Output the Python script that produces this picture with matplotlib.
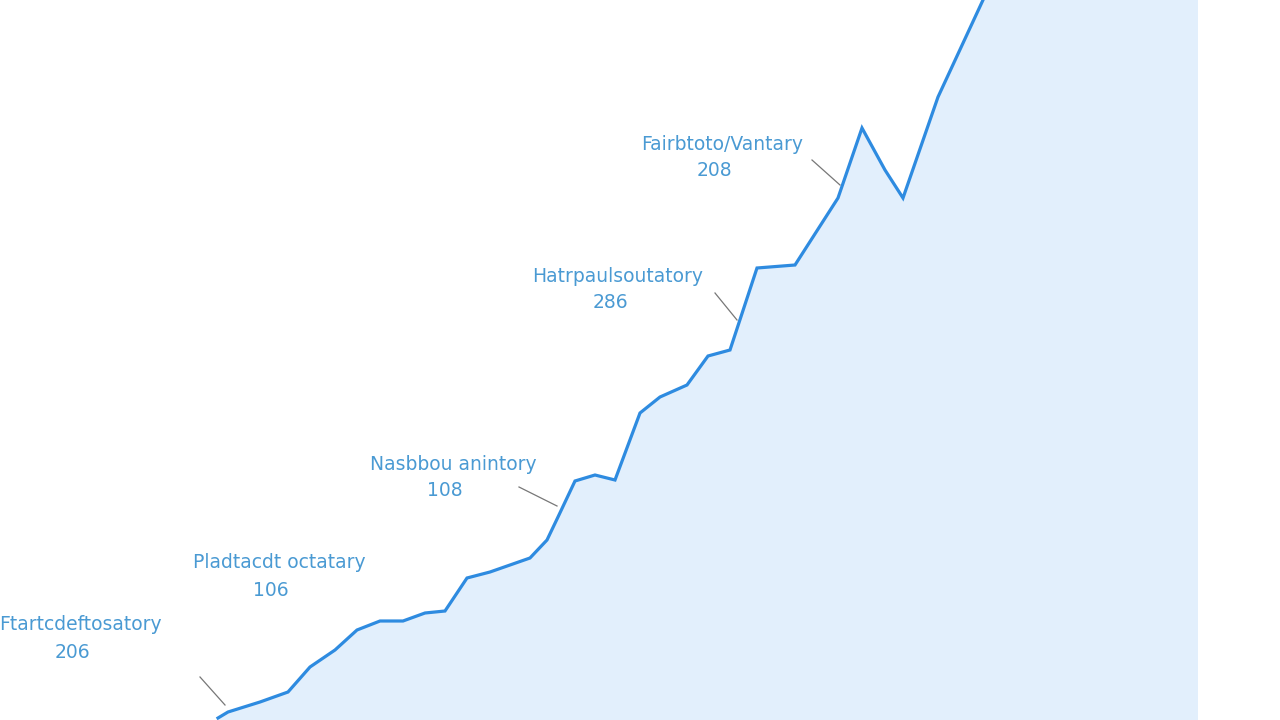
import matplotlib
matplotlib.use("Agg")
import matplotlib.pyplot as plt

# Time axis (period position) and cumulative value
periods = [218, 228, 260, 288, 310, 335, 357, 380, 403, 425, 445, 467, 490, 530,
           547, 558, 575, 595, 615, 640, 660, 687, 708, 730, 757, 795, 838, 862,
           885, 903, 938, 983, 1198]
values = [2, 8, 18, 28, 53, 70, 90, 99, 99, 107, 109, 142, 148, 162,
          180, 203, 239, 245, 240, 307, 323, 335, 364, 370, 452, 455, 522, 592,
          550, 522, 623, 720, 1200]

# Annotations: label, number, text anchor (x, y), arrow target (x, y)
ann_labels = ["Fairbtoto/Vantary", "Hatrpaulsoutatory", "Nasbbou anintory",
              "Pladtacdt octatary", "Ftartcdeftosatory"]
ann_numbers = ["208", "286", "108", "106", "206"]
ann_text_x = [722, 618, 453, 279, 80]
ann_text_y = [576, 444, 256, 157, 95]
ann_line_from = [(812, 560), (715, 427), (519, 233), None, (200, 43)]
ann_line_to = [(840, 535), (737, 400), (557, 214), None, (225, 15)]

fig = plt.figure(figsize=(12.8, 7.2), dpi=100)
ax = fig.add_axes([0, 0, 1, 1])
ax.set_xlim(0, 1280)
ax.set_ylim(0, 720)
ax.axis("off")

ax.fill_between(periods, values, 0, color="#E2EFFC", lw=0)
ax.plot(periods, values, color="#2E8BE0", lw=2.3, solid_joinstyle="miter")

for lab, num, tx, ty, p0, p1 in zip(ann_labels, ann_numbers, ann_text_x, ann_text_y,
                                     ann_line_from, ann_line_to):
    ax.text(tx, ty, lab, ha="center", va="center", fontsize=13.5, color="#4A9AD3")
    ax.text(tx - 8, ty - 27, num, ha="center", va="center", fontsize=13.5, color="#4A9AD3")
    if p0 is not None:
        ax.plot([p0[0], p1[0]], [p0[1], p1[1]], color="#777777", lw=0.9)

fig.savefig("out.png", dpi=100)
